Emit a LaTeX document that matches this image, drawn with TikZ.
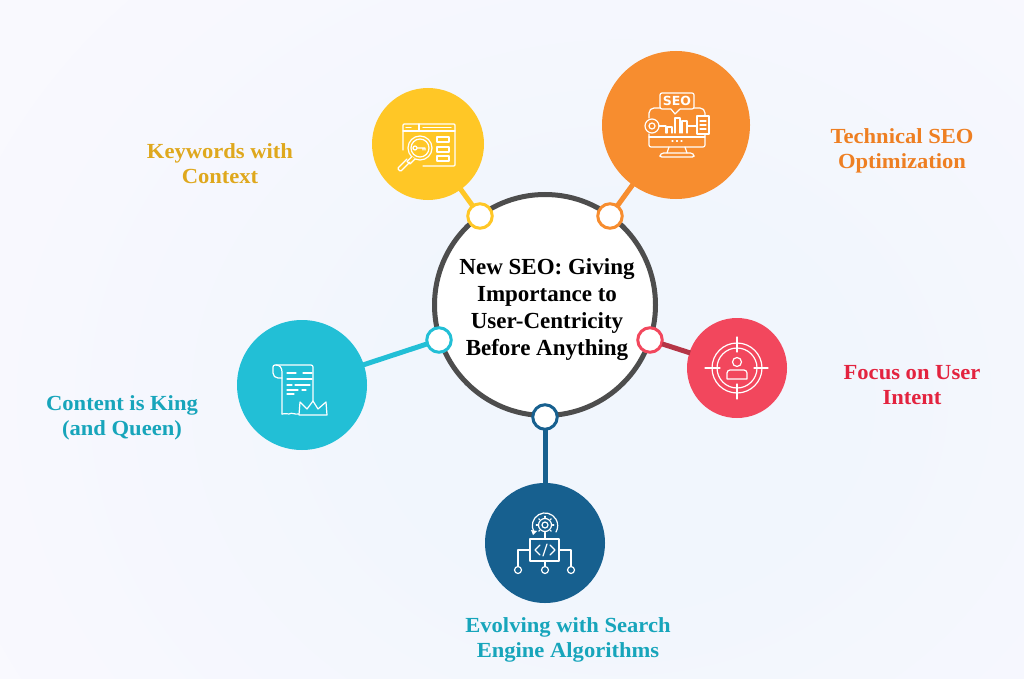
\documentclass[tikz,border=0pt]{standalone}
\usepackage{fontspec}
\setmainfont{DejaVu Serif}
\newfontfamily\labelfont[FakeStretch=1.05]{Liberation Serif}
\newfontfamily\hubfont{Liberation Serif}
\newfontfamily\seofont{DejaVu Sans}
\definecolor{cy}{HTML}{FFC726}
\definecolor{co}{HTML}{F78D2F}
\definecolor{ct}{HTML}{22BFD6}
\definecolor{cr}{HTML}{F2475D}
\definecolor{cb}{HTML}{17608F}
\definecolor{cring}{HTML}{4D4D4D}
\definecolor{ly}{HTML}{DFA81D}
\definecolor{lo}{HTML}{EE7F22}
\definecolor{lr}{HTML}{E3233F}
\definecolor{lt}{HTML}{17A5BB}
\definecolor{bgc}{HTML}{F1F6FD}
\definecolor{bgm}{HTML}{F8F8FE}
\pgfdeclareradialshading{bgshade}{\pgfpoint{0bp}{0bp}}{color(0bp)=(bgc);color(5bp)=(bgc);color(14bp)=(bgm);color(30bp)=(white);color(100bp)=(white)}
\tikzset{
  big/.style={circle,inner sep=0pt,minimum size=#1},
  dot/.style={circle,draw=#1,line width=3pt,fill=white,minimum size=24.5pt,inner sep=0pt},
  link/.style={line width=5pt,draw=#1,shorten >=-1pt,shorten <=-1pt},
  lab/.style={font=\labelfont\bfseries\fontsize{21.5}{25}\selectfont,align=center,text=#1,inner sep=0pt},
  ic/.style={draw=white,line width=1.2pt,line join=round,line cap=round},
}
\begin{document}
\begin{tikzpicture}[x=1pt,y=-1pt]
\useasboundingbox (0,0) rectangle (1024,679);
\fill[shading=bgshade,shading angle=0] (-510,-550) rectangle (1750,1350);
% centre
\node[circle,draw=cring,line width=5pt,fill=white,minimum size=221pt,inner sep=0pt] (hub) at (545,305) {};
\node[font=\hubfont\bfseries\fontsize{23}{27}\selectfont,align=center,text=black,inner sep=0pt] (hubtext) at (547,310) {New SEO: Giving\\Importance to\\User-Centricity\\Before Anything};
% big circles
\node[big=112pt,fill=cy] (ky) at (428,144) {};
\node[big=148pt,fill=co] (te) at (676,125) {};
\node[big=130pt,fill=ct] (cn) at (302,385) {};
\node[big=100pt,fill=cr] (fo) at (737,368) {};
\node[big=120pt,fill=cb] (ev) at (545,543) {};
% small circles
\node[dot=cy] (dy) at (480,216) {};
\node[dot=co] (do) at (610,216) {};
\node[dot=ct] (dt) at (439,340) {};
\node[dot=cr] (dr) at (650,340) {};
\node[dot=cb] (db) at (545,417) {};
% connectors
\draw[link=cy] (ky) -- (dy);
\draw[link=co] (te) -- (do);
\draw[link=ct] (cn) -- (dt);
\draw[link={cr!75!black}] (fo) -- (dr);
\draw[link=cb] (ev) -- (db);
% labels
\node[lab=ly] (lk) at (220,163.5) {Keywords with\\Context};
\node[lab=lo] (lte) at (902,150.5) {Technical SEO\\Optimization};
\node[lab=lr] (lf) at (912,385) {Focus on User\\Intent};
\node[lab=lt] (lc) at (122,417.5) {Content is King\\(and Queen)};
\node[lab=lt] (le) at (568,639.5) {Evolving with Search\\Engine Algorithms};
% keyword icon
\begin{scope}[ic]
\draw[rounded corners=1pt] (423,166) -- (455,166) -- (455,124) -- (403,124) -- (403,150);
\draw (403,131) -- (455,131) (419,124) -- (419,131) (406,127.5) -- (411,127.5) (423,127.5) -- (451,127.5);
\draw[fill=cy] (420,148) circle (12);
\draw (420,148) circle (9);
\draw (415,148) circle (2) (417,148) -- (425,148) (423,148) -- (423,150) (425,148) -- (425,150);
\draw[fill=cy] (412,156.5) -- (407,161.5) -- (410,164) -- (415,159);
\draw[rounded corners=1pt] (407,159) -- (397.5,168.5) -- (400.5,171.5) -- (410,162);
\draw (437,137) rectangle (449,142) (437,147) rectangle (449,152) (437,156) rectangle (449,161);
\end{scope}
% SEO icon
\begin{scope}[ic]
\draw[rounded corners=2pt] (660,108) -- (652,108) -- (649,111) -- (649,118);
\draw[rounded corners=2pt] (694,108) -- (702,108) -- (705,111) -- (705,116);
\draw[rounded corners=2pt] (649,134) -- (649,147) -- (705,147) -- (705,134);
\draw (649,137) -- (705,137);
\draw (672,141) -- (673,141) (676.5,141) -- (677.5,141) (681,141) -- (682,141);
\draw (669,147) -- (667,153) (685,147) -- (687,153);
\draw[rounded corners=1.5pt] (660,157) -- (660,155) -- (662,153) -- (692,153) -- (694,155) -- (694,157) -- cycle;
\draw[fill=co,rounded corners=2pt] (660,93) rectangle (694,109);
\fill[co] (671,108) rectangle (680,111);
\draw (671,109) -- (675,114) -- (680,109);
\node[font=\seofont\bfseries\fontsize{12.5}{12}\selectfont,text=white,inner sep=0pt] (seo) at (677,101) {SEO};
\draw[fill=co] (652,126) circle (7);
\draw (652,126) circle (3);
\draw (659,126) -- (666,126) (666,133) -- (666,127);
\draw (667,133) -- (667,127) -- (672,127) -- (672,133);
\draw (675,133) -- (675,118) -- (680,118) -- (680,133);
\draw (682,133) -- (682,121) -- (687,121) -- (687,133);
\draw (687,126) -- (697,126);
\draw[fill=co] (697,116) rectangle (709,134);
\draw (700,121) -- (706,121) (700,125) -- (706,125) (700,129) -- (706,129);
\end{scope}
% content icon
\begin{scope}[ic]
\draw[rounded corners=2pt] (282,378) -- (276,378) -- (273,375) -- (273,365) -- (313,365) -- (313,401);
\draw (276,365) .. controls (280,365) and (282,368) .. (282,372) -- (282,414);
\draw (282,414) .. controls (285,412) and (286,415) .. (289,414) .. controls (292,412) and (295,415) .. (299,414);
\draw (287,373) -- (296,373) (303,373) -- (312,373);
\draw (287,379) -- (312,379);
\draw (287,385) -- (292,385) (295,385) -- (310,385);
\draw (287,390) -- (298,390) (302,390) -- (306,390);
\draw (287,394) -- (294,394);
\draw[fill=ct] (299,415) -- (327,415) -- (326,402) -- (318,409) -- (313,401) -- (307,409) -- (300,402) -- cycle;
\end{scope}
% target icon
\begin{scope}[ic]
\draw (737,368) circle (25) (737,368) circle (20);
\draw (705,368) -- (720,368) (754,368) -- (768,368) (737,337) -- (737,352) (737,384) -- (737,399);
\draw (737,362) circle (4.5);
\draw (747,379) -- (727,379) [rounded corners=3pt] -- (727,370) -- (747,370) -- (747,379);
\end{scope}
% algorithm icon
\begin{scope}[ic]
\draw (530,539) rectangle (559,561);
\draw (545,534) -- (545,539) (530,550) -- (518,550) -- (518,566) (559,550) -- (571,550) -- (571,566) (545,561) -- (545,566);
\draw (518,570) circle (3.5) (545,570) circle (3.5) (571,570) circle (3.5);
\draw (540,545) -- (535,550) -- (540,555) (550,545) -- (555,550) -- (550,555) (547,544) -- (543,556);
\draw (545,525) circle (3);
\foreach \a in {0,45,...,315} {\draw (545,525) ++(\a:7.5) -- ++(\a:1.3);}
\draw (545,525) circle (6.5);
\draw (534,532) arc[start angle=150,end angle=390,radius=12.7];
\fill[white] (531,530) -- (537,531) -- (533,535) -- cycle;
\end{scope}
\end{tikzpicture}
\end{document}
